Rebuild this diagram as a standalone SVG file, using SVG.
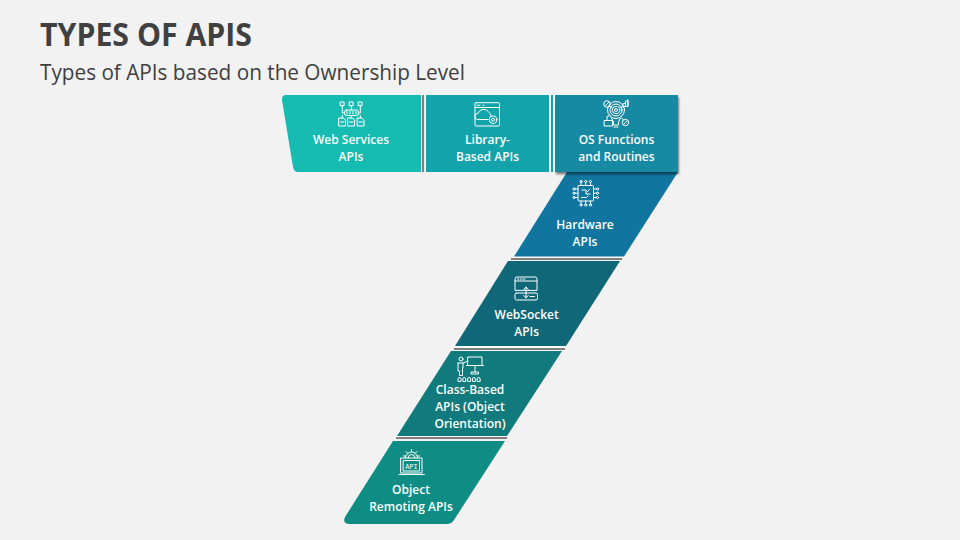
<svg xmlns="http://www.w3.org/2000/svg" width="960" height="540" viewBox="0 0 960 540">
<defs>
<style>
.t{font-family:"Open Sans","Noto Sans","Liberation Sans",sans-serif;}
.l{font-family:"Open Sans","Noto Sans","Liberation Sans",sans-serif;font-size:12px;font-weight:550;fill:#fff;text-anchor:middle;}
.i{fill:none;stroke:#fff;stroke-width:1;stroke-linejoin:round;stroke-linecap:round;}
.g{fill:#7f7f7f;}
.w{fill:#fff;}
</style>
<filter id="s" x="-10%" y="-10%" width="120%" height="125%"><feDropShadow dx="1" dy="2.200" stdDeviation=".8" flood-color="#000" flood-opacity=".5"/></filter>
</defs>
<rect width="960" height="540" fill="#f2f2f2"/>
<text class="t" x="40" y="45.500" font-size="32" font-weight="700" fill="#404040" textLength="212" lengthAdjust="spacingAndGlyphs">TYPES OF APIS</text>
<text class="t" x="40" y="80" font-size="21" fill="#404040" textLength="425" lengthAdjust="spacingAndGlyphs">Types of APIs based on the Ownership Level</text>

<g id="separators">
<rect class="g" x="422" y="95" width="2.400" height="77"/>
<rect class="w" x="424.400" y="95" width="1.600" height="77"/>
<rect class="w" x="421" y="95" width="1" height="77"/>
<rect class="w" x="549" y="95" width="2" height="77"/>
<rect x="551" y="95" width="2" height="77" fill="#12a3ab"/>
<rect class="w" x="553" y="95" width="2" height="77"/>
<rect class="g" x="511" y="258" width="111" height="2"/>
<rect class="w" x="513" y="256.500" width="110" height="1.500"/>
<rect class="g" x="454" y="348" width="111" height="2"/>
<rect class="w" x="455" y="346.500" width="110" height="1.500"/>
<rect class="g" x="396" y="437" width="111" height="2"/>
<rect class="w" x="397" y="436" width="110" height="1"/>
</g>

<g id="node-web-services">
<path d="M286 95H421V172H298Q294 172 293 167L282 100Q281.500 95 286 95Z" fill="#16bcb2"/>
<g class="i">
<rect x="340.500" y="102" width="3.600" height="3.600"/><rect x="349.500" y="102" width="3.600" height="3.600"/><rect x="358.500" y="102" width="3.600" height="3.600"/>
<path d="M342.300 105.600V113H344.500M351.300 105.600V110M360.300 105.600V113H358"/>
<rect x="344.500" y="110" width="14" height="5.500" rx="2"/>
<path d="M347 111.500v2.500M350 111.500v2.500M353 111.500v2.500M356 111.500v2.500"/>
<path d="M342.300 115.500V118M351.300 115.500V118M360.300 115.500V118"/>
<path d="M339 118h4.500l2 2v6H339ZM348 118h4.500l2 2v6H348ZM357.500 118h4.500l2 2v6h-6.500Z"/>
<path d="M340.500 122h3.500M349.500 122h3.500M359 122h3.500"/>
</g>
<text class="l" x="351" y="144">Web Services</text>
<text class="l" x="351" y="161">APIs</text>
</g>

<g id="node-library">
<rect x="426" y="95" width="123" height="77" fill="#12a3ab"/>
<g class="i">
<rect x="475" y="102.700" width="24.500" height="23.300" rx="1"/>
<path d="M475 107.500H499.500M477 105.200h3M483 105.200h1"/>
<path d="M477.500 119.500a3 3 0 0 1 .5-6a6 6 0 0 1 11-1a4 4 0 0 1 2 3"/>
<path d="M477.500 119.500H488"/>
<circle cx="493" cy="119.700" r="3.800"/><circle cx="493" cy="119.700" r="1.500"/>
</g>
<text class="l" x="487.500" y="144">Library-</text>
<text class="l" x="487.500" y="161">Based APIs</text>
</g>

<g id="node-hardware">
<path d="M567 172H678L624 256.500H514Z" fill="#10769f"/>
<g class="i">
<rect x="578" y="185.500" width="15.500" height="15.500" rx="1"/>
<path d="M582 190h4v4h4M589.500 189.500l-2.500 2.500M581.500 197.500h5l1.500-1.500"/>
<path d="M581 185.500v-3M585.700 185.500v-3M590.500 185.500v-3M581 201v3M585.700 201v3M590.500 201v3"/>
<path d="M578 189h-3M578 193.200h-3M578 197.500h-3M593.500 189h3M593.500 193.200h3M593.500 197.500h3"/>
<circle cx="581" cy="181.500" r="1.100"/><circle cx="585.700" cy="181.500" r="1.100"/><circle cx="590.500" cy="181.500" r="1.100"/>
<circle cx="581" cy="205" r="1.100"/><circle cx="585.700" cy="205" r="1.100"/><circle cx="590.500" cy="205" r="1.100"/>
<circle cx="574" cy="189" r="1.100"/><circle cx="574" cy="193.200" r="1.100"/><circle cx="574" cy="197.500" r="1.100"/>
<circle cx="597.500" cy="189" r="1.100"/><circle cx="597.500" cy="193.200" r="1.100"/><circle cx="597.500" cy="197.500" r="1.100"/>
</g>
<text class="l" x="585" y="229">Hardware</text>
<text class="l" x="585" y="246">APIs</text>
</g>

<g id="node-os-functions">
<rect x="555" y="95" width="123" height="77" fill="#1289a3" filter="url(#s)"/>
<g class="i">
<circle cx="616" cy="110" r="8.500"/><circle cx="616" cy="110" r="6"/><circle cx="616" cy="110" r="3.700"/><circle cx="616" cy="110" r="1.500"/>
<path d="M611.500 118L613.500 122V125H618.500V122L620.500 118M614 127h4"/>
<circle cx="607" cy="104" r="3.300"/><path d="M605.500 105.500l3-3M609.500 106l2.500 2"/>
<circle cx="625.500" cy="122.500" r="3.200"/><path d="M624 124l3-3M623.500 120l-2-2"/>
<rect x="604.500" y="120.500" width="8" height="5.500"/><path d="M607 120.500v-4l3-1"/>
<path d="M623 106v-2.500h2.500V106ZM625.500 106v-5h2.500v5ZM628 106v-6.500h0"/>
<path d="M620 107l3 0"/>
</g>
<text class="l" x="616.500" y="144">OS Functions</text>
<text class="l" x="616.500" y="161">and Routines</text>
</g>

<g id="node-websocket">
<path d="M508 261H620L566 346H455Z" fill="#0f6778"/>
<g class="i">
<path d="M515 290V279a2 2 0 0 1 2-2H535a2 2 0 0 1 2 2V290Z"/>
<path d="M515 281H537M517.500 279h1.500M520.500 279h1.500M523.500 279h1.500"/>
<rect x="515" y="293" width="22.500" height="7" rx="1.500"/>
<path d="M526 287V298M523.800 289.500L526 287L528.200 289.500M523.800 295.500L526 298L528.200 295.500"/>
<path d="M530 296.500h4.500"/>
</g>
<text class="l" x="526.700" y="319">WebSocket</text>
<text class="l" x="526.700" y="336">APIs</text>
</g>

<g id="node-class-based">
<path d="M451 351H562L507 436H397Z" fill="#107a7c"/>
<g class="i">
<circle cx="461" cy="359" r="2"/>
<path d="M458 363H463L468 361M458 363V371H459.500V375.500H462.500V368M463 363V368"/>
<rect x="468" y="357" width="14" height="8.500"/>
<path d="M466.500 365.500H483.500M475 365.500V372M471.500 372H478.500V374H471.500Z"/>
<path d="M458 381v-2a1.500 1.500 0 0 1 3 0v2ZM462.800 381v-2a1.500 1.500 0 0 1 3 0v2ZM467.600 381v-2a1.500 1.500 0 0 1 3 0v2ZM472.400 381v-2a1.500 1.500 0 0 1 3 0v2ZM477.200 381v-2a1.500 1.500 0 0 1 3 0v2Z"/>
</g>
<text class="l" x="470" y="394">Class-Based</text>
<text class="l" x="470" y="411">APIs (Object</text>
<text class="l" x="470" y="428">Orientation)</text>
</g>

<g id="node-object-remoting">
<path d="M393 441H505L454 520Q451.500 524 447 524H350Q342 524 345 517Z" fill="#0f8d84"/>
<g class="i">
<path d="M401 458H422V473H401Z"/>
<path d="M403.500 460.500H419.500V471H403.500Z"/>
<path d="M399 474.500H424.500"/>
<path d="M405.500 458a6 6 0 0 1 12 0M408 458a3.500 3.500 0 0 1 7 0"/>
<path d="M411.500 449.500v2M406 451.500l1.500 1.500M417 451.500l-1.500 1.500M403.500 456h2M419.500 456h-2"/>
</g>
<text x="411.500" y="468.500" font-family="Liberation Mono,monospace" font-size="7" fill="#fff" text-anchor="middle">API</text>
<text class="l" x="411" y="494">Object</text>
<text class="l" x="411" y="511">Remoting APIs</text>
</g>
</svg>
